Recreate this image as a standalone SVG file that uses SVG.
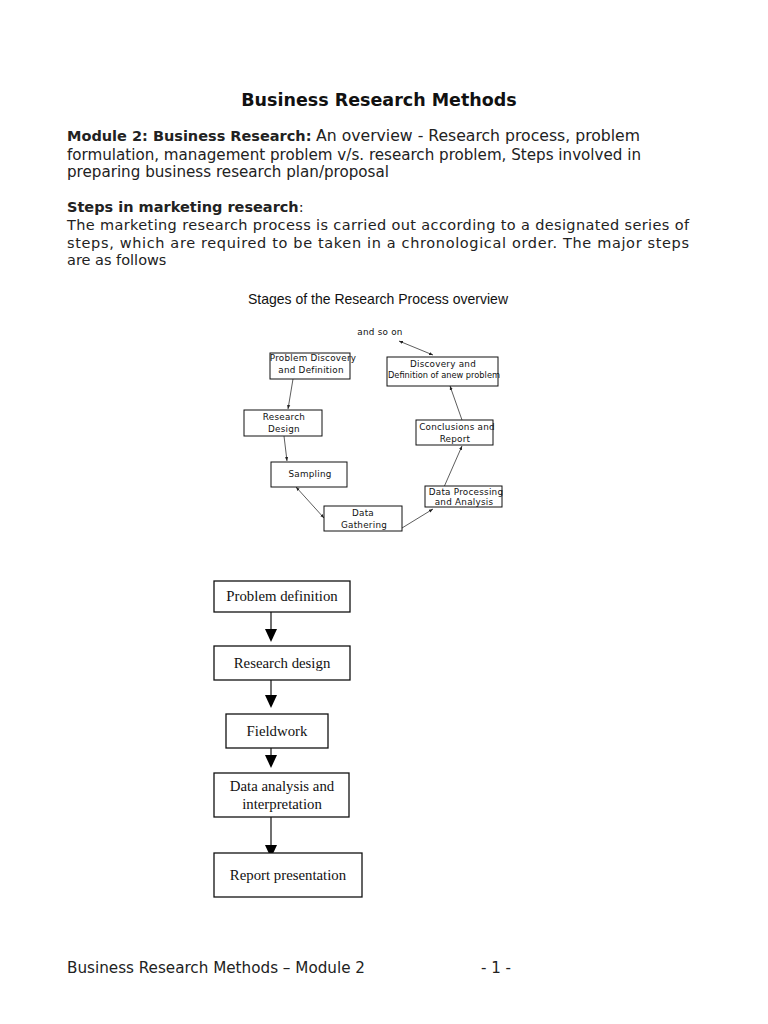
<svg xmlns="http://www.w3.org/2000/svg" width="768" height="1024" viewBox="0 0 768 1024">
<defs>
<style>
.body{font-family:"DejaVu Sans","Liberation Sans",sans-serif;font-size:14.5px;fill:#222}
.cond{font-family:"DejaVu Sans Condensed","DejaVu Sans",sans-serif;font-size:15px;fill:#222}
.b{font-weight:bold}
.sm{font-family:"DejaVu Sans","Liberation Sans",sans-serif;font-size:8.8px;letter-spacing:0.25px;fill:#111;text-anchor:middle}
.sf{font-family:"Liberation Serif","Times New Roman",serif;font-size:14.8px;fill:#111;text-anchor:middle}
.box{fill:#fff;stroke:#111;stroke-width:1}
.bx2{fill:#fff;stroke:#111;stroke-width:1.3}
.thin{stroke:#333;stroke-width:0.8;fill:none}
.ln{stroke:#111;stroke-width:1.2;fill:none}
</style>
<marker id="sa" viewBox="0 0 10 10" refX="10" refY="5" markerWidth="5" markerHeight="5" orient="auto-start-reverse">
<path d="M0,1 L10,5 L0,9 z" fill="#222"/>
</marker>
</defs>
<rect width="768" height="1024" fill="#fff"/>
<text x="379" y="106" text-anchor="middle" font-family="DejaVu Sans, sans-serif" font-size="17.5" font-weight="bold" fill="#111">Business Research Methods</text>
<text class="body b" x="67" y="141">Module 2: Business Research:</text>
<text class="cond" x="316" y="141" textLength="324" lengthAdjust="spacingAndGlyphs">An overview - Research process, problem</text>
<text class="cond" x="67" y="160" textLength="574" lengthAdjust="spacingAndGlyphs">formulation, management problem v/s. research problem, Steps involved in</text>
<text class="cond" x="67" y="177" textLength="322" lengthAdjust="spacingAndGlyphs">preparing business research plan/proposal</text>
<text class="body" x="67" y="212"><tspan class="b">Steps in marketing research</tspan>:</text>
<text class="body" x="67" y="230" textLength="622" lengthAdjust="spacing">The marketing research process is carried out according to a designated series of</text>
<text class="body" x="67" y="248" textLength="622" lengthAdjust="spacing">steps, which are required to be taken in a chronological order. The major steps</text>
<text class="body" x="67" y="265">are as follows</text>
<text x="248" y="304" font-family="Liberation Sans, Arial, sans-serif" font-size="15" fill="#111" textLength="260" lengthAdjust="spacingAndGlyphs">Stages of the Research Process overview</text>
<text class="sm" x="380" y="335">and so on</text>
<g id="connectors">
<line class="thin" x1="433" y1="355" x2="399" y2="341" marker-start="url(#sa)" marker-end="url(#sa)"/>
<line class="thin" x1="293" y1="379" x2="288" y2="409" marker-end="url(#sa)"/>
<line class="thin" x1="284" y1="436" x2="287" y2="461" marker-end="url(#sa)"/>
<line class="thin" x1="296" y1="487" x2="324" y2="518" marker-start="url(#sa)" marker-end="url(#sa)"/>
<line class="thin" x1="402" y1="528" x2="433" y2="509" marker-end="url(#sa)"/>
<line class="thin" x1="444" y1="487" x2="462" y2="446" marker-end="url(#sa)"/>
<line class="thin" x1="462" y1="420" x2="450" y2="386" marker-end="url(#sa)"/>
<line class="ln" x1="271" y1="612" x2="271" y2="630"/>
<path d="M265,629 L277,629 L271,642 z" fill="#000"/>
<line class="ln" x1="271" y1="680" x2="271" y2="696"/>
<path d="M265,695 L277,695 L271,708 z" fill="#000"/>
<line class="ln" x1="271" y1="748" x2="271" y2="756"/>
<path d="M265,755 L277,755 L271,768 z" fill="#000"/>
<line class="ln" x1="271" y1="817" x2="271" y2="846"/>
<path d="M265,845 L277,845 L271,858 z" fill="#000"/>
</g>
<g id="n1"><rect class="box" x="270" y="353" width="80" height="26"/><text class="sm" x="313" y="361">Problem Discovery</text><text class="sm" x="311" y="373">and Definition</text></g>
<g id="n2"><rect class="box" x="387" y="357" width="111" height="29"/><text class="sm" x="443" y="367">Discovery and</text><text class="sm" x="388" y="378" style="text-anchor:start;letter-spacing:0" textLength="112" lengthAdjust="spacingAndGlyphs">Definition of anew problem</text></g>
<g id="n3"><rect class="box" x="244" y="410" width="78" height="26"/><text class="sm" x="284" y="420">Research</text><text class="sm" x="284" y="432">Design</text></g>
<g id="n4"><rect class="box" x="416" y="420" width="77" height="25"/><text class="sm" x="457" y="430">Conclusions and</text><text class="sm" x="455" y="442">Report</text></g>
<g id="n5"><rect class="box" x="271" y="462" width="76" height="25"/><text class="sm" x="310" y="477">Sampling</text></g>
<g id="n6"><rect class="box" x="425" y="486" width="77" height="21"/><text class="sm" x="466" y="495">Data Processing</text><text class="sm" x="464" y="505">and Analysis</text></g>
<g id="n7"><rect class="box" x="324" y="506" width="78" height="25"/><text class="sm" x="363" y="516">Data</text><text class="sm" x="364" y="528">Gathering</text></g>
<g id="f1"><rect class="bx2" x="214" y="581" width="136" height="31"/><text class="sf" x="282" y="601">Problem definition</text></g>
<g id="f2"><rect class="bx2" x="214" y="646" width="136" height="34"/><text class="sf" x="282" y="668">Research design</text></g>
<g id="f3"><rect class="bx2" x="226" y="714" width="102" height="34"/><text class="sf" x="277" y="736">Fieldwork</text></g>
<g id="f4"><rect class="bx2" x="214" y="773" width="135" height="44"/><text class="sf" x="282" y="791">Data analysis and</text><text class="sf" x="282" y="809">interpretation</text></g>
<g id="f5"><rect class="bx2" x="214" y="853" width="148" height="44"/><text class="sf" x="288" y="880">Report presentation</text></g>
<text class="cond" x="67" y="973" textLength="298" lengthAdjust="spacingAndGlyphs">Business Research Methods – Module 2</text>
<text class="cond" x="481" y="973" textLength="30" lengthAdjust="spacingAndGlyphs">- 1 -</text>
</svg>
